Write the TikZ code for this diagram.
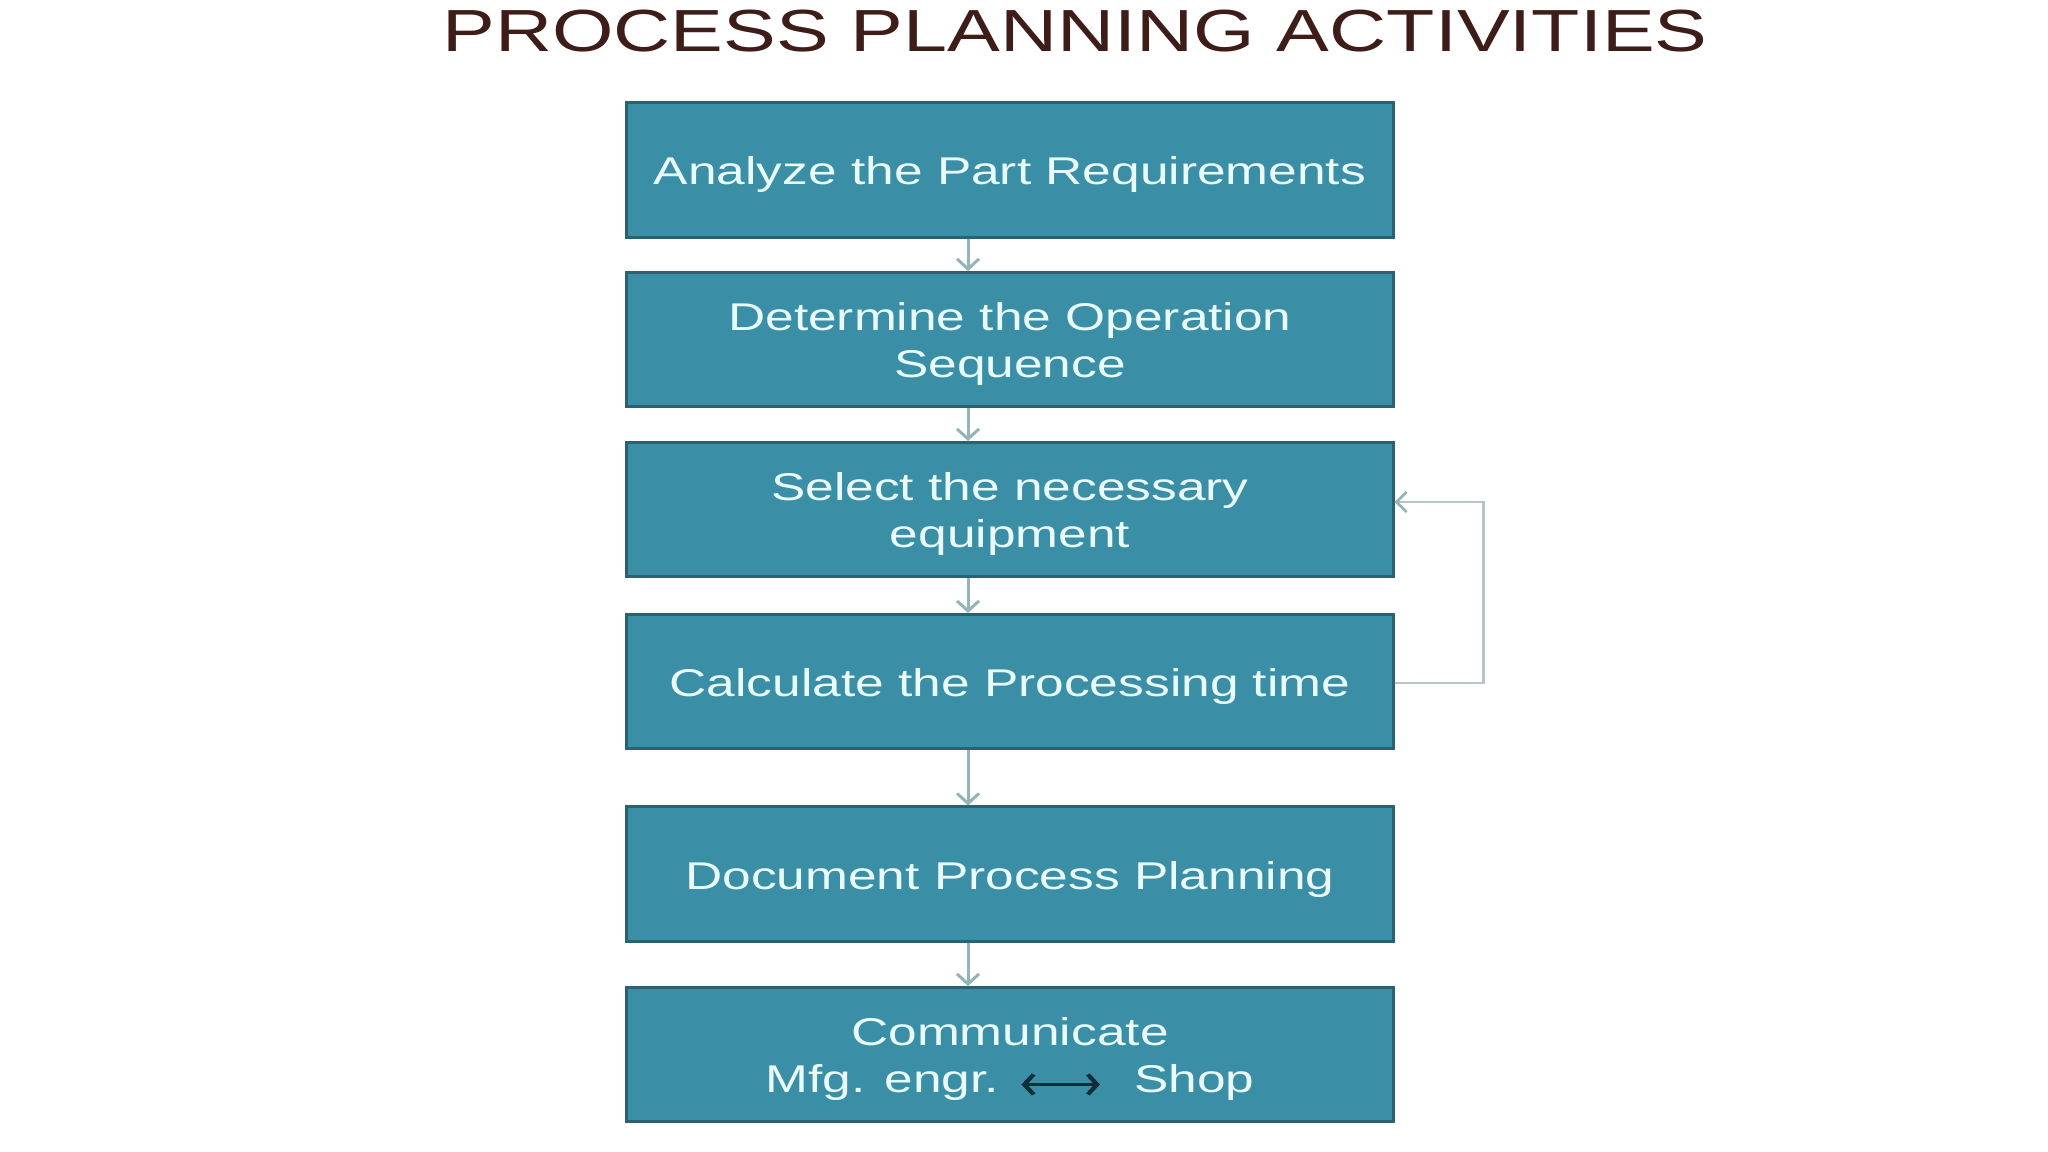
\documentclass[tikz,border=0pt]{standalone}
\usepackage{fontspec}
\usepackage{graphicx}
\setmainfont{Liberation Sans}
\usetikzlibrary{arrows.meta}
\definecolor{boxfill}{HTML}{3A8FA7}
\definecolor{boxborder}{HTML}{2A6274}
\definecolor{boxtext}{HTML}{E8FAFA}
\definecolor{titlecol}{HTML}{3E1C18}
\definecolor{flowcol}{HTML}{93B4B8}
\definecolor{backcol}{HTML}{B4C6C8}
\definecolor{navy}{HTML}{0E2C3A}
\newcommand\widen[1]{\raisebox{-0.05cm}[\height][\depth]{\scalebox{1.33}[1]{#1}}}
\newcommand\twolines[2]{\widen{\begin{tabular}{@{}c@{}}#1\\#2\end{tabular}}}
\newcommand\dblarrow{\tikz[baseline=-0.08cm]\draw[navy,line width=0.035cm,
  {Straight Barb[length=0.07cm,width=0.2cm]}-{Straight Barb[length=0.07cm,width=0.2cm]}]
  (0cm,0cm) -- (0.59cm,0cm);}
\begin{document}
\begin{tikzpicture}[x=0.01cm,y=-0.01cm,
  stepbox/.style={draw=boxborder,line width=0.03cm,fill=boxfill,
    minimum width=7.66cm,minimum height=1.34cm,inner sep=0pt,
    text=boxtext,font=\fontsize{11}{13.4}\selectfont},
  flow/.style={draw=flowcol,line width=0.03cm,
    -{Straight Barb[length=0.1cm,width=0.22cm]}},
  backflow/.style={draw=backcol,line width=0.025cm,
    -{Straight Barb[length=0.1cm,width=0.2cm,color=flowcol]}}]
\useasboundingbox[fill=white] (0,0) rectangle (2048,1152);
\node[anchor=base,text=titlecol,font=\fontsize{16.9}{20}\selectfont] (title) at (1075,52) {\scalebox{1.33}[1]{PROCESS PLANNING ACTIVITIES}};
\node[stepbox] (b1) at (1010,170) {\widen{Analyze the Part Requirements}};
\node[stepbox] (b2) at (1010,339.5) {\twolines{Determine the Operation}{Sequence}};
\node[stepbox] (b3) at (1010,509.5) {\twolines{Select the necessary}{equipment}};
\node[stepbox] (b4) at (1010,681.5) {\widen{Calculate the Processing time}};
\node[stepbox] (b5) at (1010,874) {\widen{Document Process Planning}};
\node[stepbox] (b6) at (1010,1054.5) {\twolines{Communicate}{Mfg. engr.\hspace{0.15cm}\dblarrow\hspace{0.24cm}Shop}};
\coordinate (ax) at (968,0);
\draw[flow] (b1.south -| ax) -- (b2.north -| ax);
\draw[flow] (b2.south -| ax) -- (b3.north -| ax);
\draw[flow] (b3.south -| ax) -- (b4.north -| ax);
\draw[flow] (b4.south -| ax) -- (b5.north -| ax);
\draw[flow] (b5.south -| ax) -- (b6.north -| ax);
\draw[backflow] ([yshift=-0.015cm]b4.east) -- ++(89,0) |- ([yshift=0.075cm]b3.east);
\end{tikzpicture}
\end{document}
